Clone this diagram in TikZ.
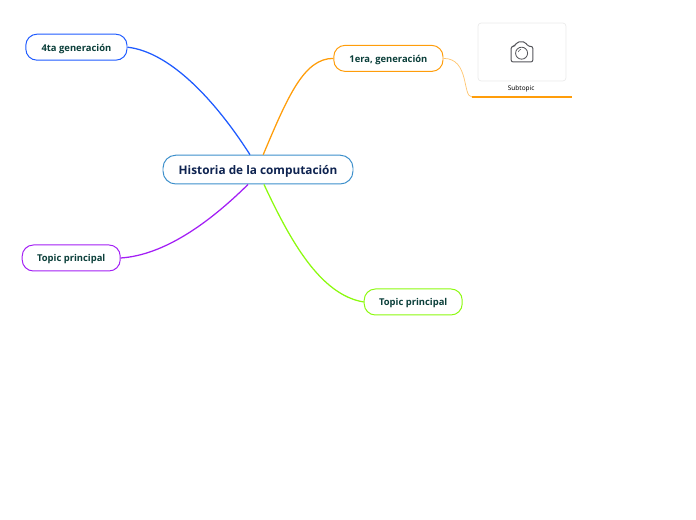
\documentclass[tikz,border=0pt]{standalone}
\usepackage{fontspec}
\setmainfont{Noto Sans}
\newfontfamily\boldface{Open Sans}
\definecolor{rootblue}{HTML}{3C8FCB}
\definecolor{rootink}{HTML}{0E2350}
\definecolor{topicink}{HTML}{0B3F3A}
\definecolor{linkblue}{HTML}{1F5BFF}
\definecolor{linkorange}{HTML}{FF9D0A}
\definecolor{linkpurple}{HTML}{A31FF5}
\definecolor{linkgreen}{HTML}{8CFA0F}
\definecolor{photoedge}{HTML}{EBEBEB}
\definecolor{photoink}{HTML}{55565B}
\begin{document}
\begin{tikzpicture}
    \tikzstyle{root}=[draw=rootblue, fill=white, line width=0.7pt, rounded corners=0.32cm, minimum width=4.75cm, minimum height=0.72cm, text=rootink, text height=0.29cm, text depth=0.05cm, font=\fontsize{8.4}{10}\selectfont\boldface\bfseries]
    \tikzstyle{topic}=[fill=white, line width=0.7pt, rounded corners=0.28cm, minimum height=0.65cm, text=topicink, text height=0.24cm, text depth=0.04cm, font=\fontsize{6.7}{8}\selectfont\boldface\bfseries]
    \tikzstyle{link}=[line width=0.9pt]
    \useasboundingbox (0, 0) rectangle (17.4, 13);
    \node [root] (central) at (6.45, 8.76) {Historia de la computación};
    \node [topic, draw=linkblue, minimum width=2.53cm] (cuarta) at (1.91, 11.82) {4ta generación};
    \node [topic, draw=linkorange, minimum width=2.73cm] (primera) at (9.71, 11.54) {1era, generación};
    \node [topic, draw=linkpurple, minimum width=2.45cm] (topicleft) at (1.78, 6.55) {Topic principal};
    \node [topic, draw=linkgreen, minimum width=2.45cm] (topicright) at (10.33, 5.45) {Topic principal};
    \node [draw=photoedge, fill=white, line width=0.5pt, rounded corners=0.08cm, minimum width=2.2cm, minimum height=1.45cm] (photo) at (13.05, 11.7) {};
    \node [text=black, font=\fontsize{4.6}{6}\selectfont] (subtopic) at (13.03, 10.78) {Subtopic};
    \coordinate (subleft) at (11.8, 10.575);
    \coordinate (subright) at (14.3, 10.575);
    % connectors
    \draw [link, linkblue] ([xshift=-0.2cm]central.north) .. controls (5.375, 10.5) and (4.25, 11.7) .. (cuarta.east);
    \draw [link, linkorange] ([xshift=0.13cm]central.north) .. controls (7.2, 10.6) and (7.6, 11.54) .. (primera.west);
    \draw [link, linkpurple] ([xshift=-0.25cm]central.south) .. controls (5.25, 7.45) and (4.125, 6.625) .. (topicleft.east);
    \draw [link, linkgreen] ([xshift=0.15cm]central.south) .. controls (7.25, 7) and (8, 5.63) .. (topicright.west);
    \draw [line width=0.5pt, linkorange!60] (primera.east) .. controls (11.75, 11.54) and (11.55, 10.575) .. (subleft);
    \draw [line width=1pt, linkorange] (subleft) -- (subright);
    % camera
    \draw [photoink, line width=0.7pt, rounded corners=0.05cm] (12.78, 11.45) -- (13.32, 11.45) -- (13.32, 11.84) -- (13.19, 11.84) -- (13.14, 11.95) -- (12.92, 11.95) -- (12.87, 11.84) -- (12.78, 11.84) -- cycle;
    \draw [photoink, line width=0.6pt] (13.04, 11.67) circle (0.15);
    \draw [photoink, line width=0.4pt] (12.96, 11.70) arc (170:100:0.08);
\end{tikzpicture}
\end{document}
